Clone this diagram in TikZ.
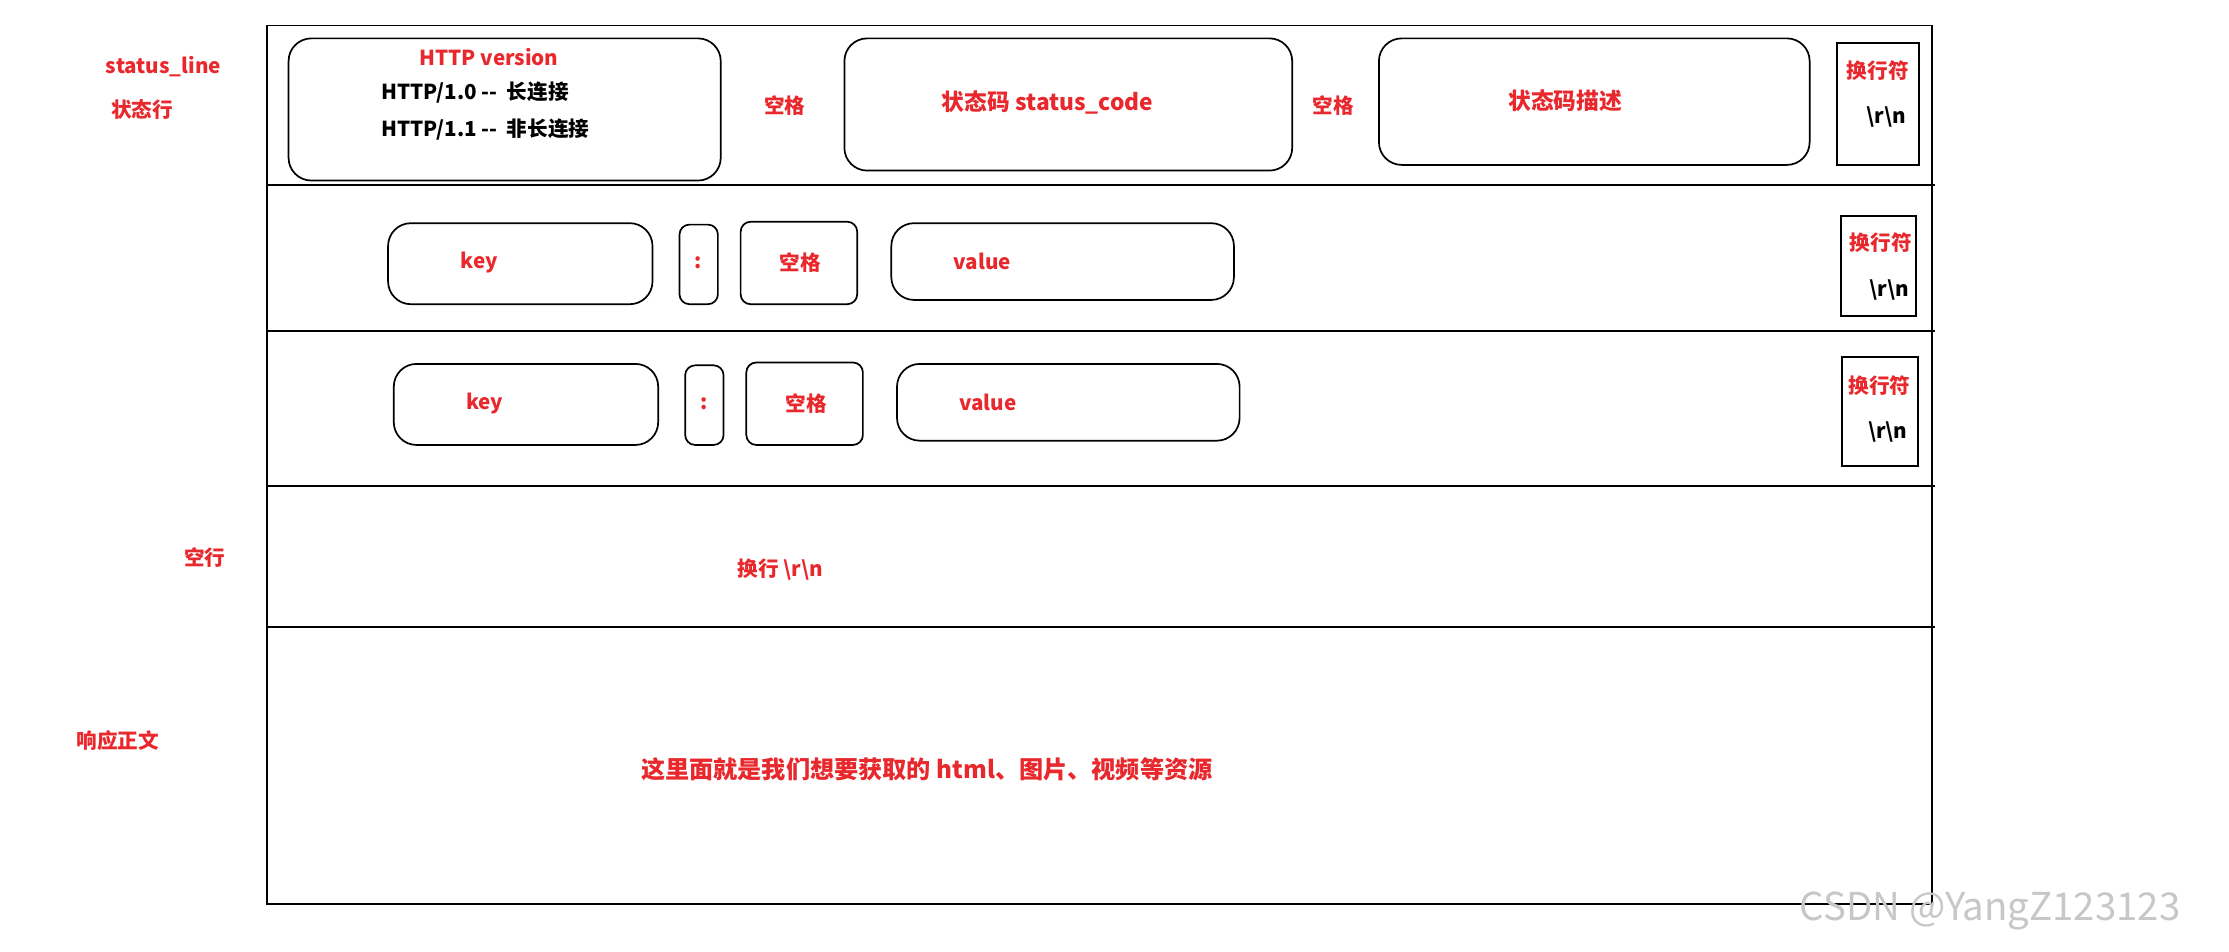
\documentclass[tikz,border=0pt]{standalone}
\usepackage{fontspec}
\setmainfont{Noto Sans CJK SC}
\definecolor{rd}{RGB}{232,40,44}
\begin{document}
\begin{tikzpicture}[x=1pt,y=-1pt,
  every node/.style={font=\fontsize{14.5}{16}\selectfont\bfseries},
  rt/.style={text=rd},
  bk/.style={text=black},
  rbox/.style={draw,line width=1.2pt,rounded corners=16pt},
  sbox/.style={draw,line width=1.2pt,rounded corners=7pt},
  lbox/.style={draw,line width=1.4pt}]
\useasboundingbox (0,0) rectangle (1568,669);
\fill[white] (0,0) rectangle (1568,669);
\draw[line width=1.2pt] (188,18) rectangle (1359,636);
\foreach \yy in {130,233,342,441} \draw[line width=1.2pt] (188,\yy) -- (1361,\yy);
% left labels
\node[rt] (sl) at (115,47) {status\_line};
\node[rt] (zt) at (100,77) {状态行};
\node[rt] (kh) at (144,392) {空行};
\node[rt] (zw) at (83,521) {响应正文};
% row 1
\draw[rbox] (203,27) rectangle (507,127);
\node[rt] (hv) at (344,40) {HTTP version};
\node[bk,anchor=west,inner sep=0pt] (h10) at (268,65) {HTTP/1.0 {-}{-}\ \ 长连接};
\node[bk,anchor=west,inner sep=0pt] (h11) at (268,91) {HTTP/1.1 {-}{-}\ \ 非长连接};
\node[rt] (k1) at (552,74) {空格};
\draw[rbox] (594,27) rectangle (909,120);
\node[rt,font=\fontsize{16}{18}\selectfont\bfseries] (sc) at (737,72) {状态码 status\_code};
\node[rt] (k2) at (938,74) {空格};
\draw[rbox] (970,27) rectangle (1273,116);
\node[rt,font=\fontsize{16}{18}\selectfont\bfseries] (ms) at (1101,71) {状态码描述};
\draw[lbox] (1292,30) rectangle (1350,116);
\node[rt] (hh1) at (1321,50) {换行符};
\node[bk] (rn1) at (1327,82) {\textbackslash r\textbackslash n};
% row 2 and 3
\foreach \dx/\dy/\n in {0/0/a,4/99/b}{
\begin{scope}[shift={(\dx,\dy)}]
\draw[rbox] (273,157) rectangle (459,214);
\node[rt] (key\n) at (337,185) {key};
\draw[sbox] (478,158) rectangle (505,214);
\node[rt] (col\n) at (491,185) {:};
\draw[sbox] (521,156) rectangle (603,214);
\node[rt] (sp\n) at (563,185) {空格};
\draw[rbox] (627,157) rectangle (868,211);
\node[rt] (val\n) at (691,184) {value};
\end{scope}}
\draw[lbox] (1295,152) rectangle (1348,222);
\node[rt] (hh2) at (1323,171) {换行符};
\node[bk] (rn2) at (1329,204) {\textbackslash r\textbackslash n};
\draw[lbox] (1296,251) rectangle (1349,328);
\node[rt] (hh3) at (1322,271) {换行符};
\node[bk] (rn3) at (1328,304) {\textbackslash r\textbackslash n};
% blank line & body
\node[rt] (hx) at (549,401) {换行 \textbackslash r\textbackslash n};
\node[rt,font=\fontsize{17}{19}\selectfont\bfseries] (body) at (652,541) {这里面就是我们想要获取的 html、图片、视频等资源};
\node[text=black!22,font=\fontsize{27}{29}\selectfont] (wm) at (1400,641) {CSDN @YangZ123123};
\end{tikzpicture}
\end{document}
